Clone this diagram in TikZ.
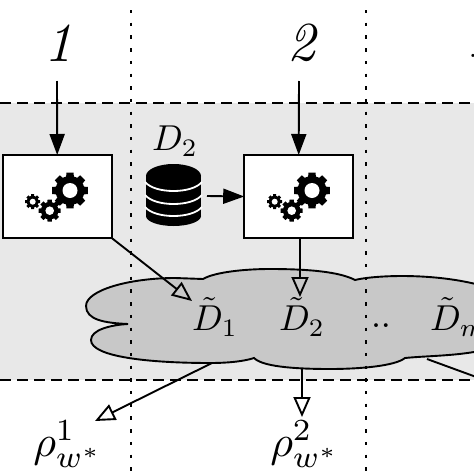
\documentclass[tikz,border=0pt]{standalone}
\usepackage{amsmath}
\usetikzlibrary{arrows.meta}
\definecolor{bandgray}{HTML}{E8E8E8}
\definecolor{cloudgray}{HTML}{C8C8C8}
\tikzset{
  ln/.style={line width=1.9pt,black},
  solidarrow/.style={ln,-{Triangle[length=21pt,width=15pt]}},
  openarrow/.style={ln,-{Triangle[open,length=20pt,width=17pt,line width=1.9pt]}},
  dotline/.style={line width=2.2pt,dash pattern=on 3.4pt off 9.3pt},
  dashline/.style={line width=2.2pt,dash pattern=on 11pt off 6pt},
  procbox/.style={draw=black,line width=2pt,fill=white,minimum width=109pt,minimum height=83pt,inner sep=0pt,outer sep=0pt},
  lbl/.style={inner sep=0pt,outer sep=0pt,scale=3.6}
}
\newcommand{\onegear}[6]{% x y outer inner hole teeth
  \begin{scope}[shift={(#1,#2)}]
    \fill[black] (0,0) circle[radius=#4];
    \foreach \i in {1,...,#6}{
      \pgfmathsetmacro{\aa}{\i*360/#6}
      \pgfmathsetmacro{\st}{360/#6}
      \fill[black] (\aa-0.36*\st:#4-0.6) -- (\aa-0.25*\st:#3) -- (\aa+0.25*\st:#3) -- (\aa+0.36*\st:#4-0.6) -- cycle;
    }
    \fill[white] (0,0) circle[radius=#5];
  \end{scope}
}
\newcommand{\gearset}[1]{%
  \begin{scope}[shift={(#1,0)}]
    \onegear{70}{190.5}{18.3}{14.5}{7.5}{8}
    \onegear{49.7}{210.7}{11.2}{8.8}{4.3}{8}
    \onegear{32.7}{201.7}{7.6}{5.9}{3}{8}
  \end{scope}
}
\begin{document}
\begin{tikzpicture}[x=1pt,y=-1pt]
\useasboundingbox (0,0) rectangle (474,474);
\clip (0,0) rectangle (474,474);
\fill[bandgray] (0,103) rectangle (474,380);

% boxes
\node[procbox] (box1) at (57.2,196.5) {};
\node[procbox] (box2) at (298.7,196.5) {};
\gearset{0}
\gearset{242}

% database
\fill[black] (146,176) rectangle (201,216);
\fill[black] (173.5,176) ellipse[x radius=27.5,y radius=12];
\fill[black] (173.5,216) ellipse[x radius=27.5,y radius=10];
\draw[white,line width=1.8pt] (145,182) .. controls (155,194) and (192,194) .. (202,182);
\draw[white,line width=1.8pt] (145,195) .. controls (155,207) and (192,207) .. (202,195);
\draw[white,line width=1.8pt] (145,207) .. controls (155,219) and (192,219) .. (202,207);

% cloud
\draw[ln,fill=cloudgray]
  (128,324)
  .. controls (105,323) and (86,320) .. (86,306)
  .. controls (86,290) and (130,278) .. (175,278)
  -- (203,279)
  .. controls (215,272) and (245,269) .. (270,269)
  .. controls (310,269) and (340,272) .. (355,280)
  .. controls (375,275) and (440,272) .. (490,288)
  -- (490,349)
  -- (474,352)
  .. controls (450,356) and (425,356) .. (405,358)
  .. controls (395,366) and (360,369) .. (330,369)
  .. controls (290,369) and (262,366) .. (254,358)
  .. controls (245,361) and (230,363) .. (210,363)
  .. controls (150,363) and (91,357) .. (91,340)
  .. controls (91,330) and (110,325) .. (128,324) -- cycle;

% separators
\coordinate (dotA) at (131,10);
\coordinate (dotAe) at (131,474);
\coordinate (dotB) at (366,10);
\coordinate (dotBe) at (366,474);
\coordinate (dashA) at (0,103);
\coordinate (dashAe) at (474,103);
\coordinate (dashB) at (0,380);
\coordinate (dashBe) at (474,380);
\draw[dotline] (dotA) -- (dotAe);
\draw[dotline] (dotB) -- (dotBe);
\draw[dashline] (dashA) -- (dashAe);
\draw[dashline] (dashB) -- (dashBe);

% labels
\node[inner sep=0pt,scale=5.5] (one) at (59,43) {\textit{1}};
\node[inner sep=0pt,scale=5.5] (two) at (303,43) {\textit{2}};
\node[inner sep=0pt,scale=3] (three) at (473,56) {.};
\node[lbl] (d2) at (175,141) {$D_2$};
\node[lbl] (dt1) at (215,317) {$\tilde D_1$};
\node[lbl] (dt2) at (302,317) {$\tilde D_2$};
\node[lbl] (dots) at (381,326) {$..$};
\node[lbl,anchor=west] (dtm) at (430,317) {$\tilde D_m$};
\node[lbl,scale=1.22] (rho1) at (68,444) {$\rho_{w^*}^1$};
\node[lbl,scale=1.22] (rho2) at (305,444) {$\rho_{w^*}^2$};

% connectors
\coordinate (a1s) at (57,81);
\coordinate (a2s) at (299,81);
\coordinate (dbEast) at (207,196);
\coordinate (o1e) at (192,301);
\coordinate (o2s) at (300,238);
\coordinate (o2e) at (300,297);
\coordinate (c1) at (212,363);
\coordinate (r1) at (95,421);
\coordinate (c2) at (302,369);
\coordinate (r2) at (302,417);
\coordinate (c3) at (427,359);
\coordinate (r3) at (520,393);
\draw[solidarrow] (a1s) -- (box1.north);
\draw[solidarrow] (a2s) -- (box2.north);
\draw[solidarrow] (dbEast) -- (box2.west);
\draw[openarrow] (box1.south east) -- (o1e);
\draw[openarrow] (o2s) -- (o2e);
\draw[openarrow] (c1) -- (r1);
\draw[openarrow] (c2) -- (r2);
\draw[ln] (c3) -- (r3);
\end{tikzpicture}
\end{document}
